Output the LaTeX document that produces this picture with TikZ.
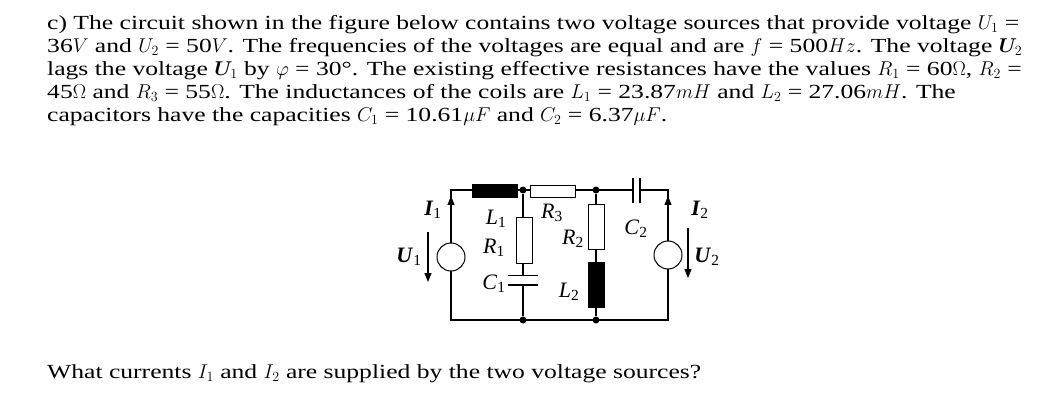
\RequirePackage{fix-cm}
\documentclass[tikz,border=0pt]{standalone}
\usepackage{amsmath,bm}
\usepackage{fontspec}
\setmainfont{Liberation Serif}[FakeStretch=1.28]
\newfontfamily\cfont{Liberation Serif}
\usetikzlibrary{arrows.meta}
\newcommand{\cl}[2]{\textit{#1}\textsubscript{\upshape #2}}
\newcommand{\cb}[2]{\textbf{\textit{#1}}\textsubscript{\upshape #2}}
\begin{document}
\begin{tikzpicture}[x=1pt,y=-1pt,
 txt/.style={anchor=base west,inner sep=0,font=\fontsize{20}{24}\selectfont},
 lab/.style={inner sep=0,font=\cfont\fontsize{22}{24}\selectfont},
 w/.style={line width=1.2pt},
 res/.style={draw,line width=1pt,fill=white},
 ind/.style={draw,line width=1pt,fill=black},
 dot/.style={circle,fill=black,inner sep=0,minimum size=7pt},
 arr/.style={line width=1.2pt,-{Triangle[length=9pt,width=7pt]}}]
\useasboundingbox (0,0) rectangle (1053,409);
\node[txt] (t1) at (47,30) {c) The circuit shown in the figure below contains two voltage sources that provide voltage $U_1$ =};
\node[txt] (t2) at (47,53) {36$V$ and $U_2$ = 50$V$. The frequencies of the voltages are equal and are $f$ = 500$Hz$. The voltage $\bm{U}_2$};
\node[txt] (t3) at (47,76) {lags the voltage $\bm{U}_1$ by $\varphi$ = 30°. The existing effective resistances have the values $R_1$ = 60$\Omega$, $R_2$ =};
\node[txt] (t4) at (47,99) {45$\Omega$ and $R_3$ = 55$\Omega$. The inductances of the coils are $L_1$ = 23.87$mH$ and $L_2$ = 27.06$mH$. The};
\node[txt] (t5) at (47,122) {capacitors have the capacities $C_1$ = 10.61$\mu F$ and $C_2$ = 6.37$\mu F$.};
\node[txt] (t6) at (47,378) {What currents $I_1$ and $I_2$ are supplied by the two voltage sources?};
% nodes
\coordinate (tl) at (451,190); \coordinate (tr) at (668,190);
\coordinate (bl) at (451,320); \coordinate (br) at (668,320);
\node[dot] (A) at (523,190) {}; \node[dot] (B) at (596,190) {};
\node[dot] (Ab) at (523,320) {}; \node[dot] (Bb) at (596,320) {};
\draw[w] (tl) -- (tr) -- (br) -- (bl) -- cycle;
\draw[w] (A) -- (Ab); \draw[w] (B) -- (Bb);
% series elements
\node[ind,minimum width=45pt,minimum height=13pt] (L1) at (494.5,191.5) {};
\node[res,minimum width=45pt,minimum height=12pt] (R3) at (552.5,192) {};
\fill[white] (633,180) rectangle (640,200);
\draw[line width=1.2pt] (633,178) -- (633,203) (640,178) -- (640,203);
\node[res,minimum width=16pt,minimum height=45pt] (R1) at (524,240.5) {};
\fill[white] (510,276) rectangle (536,285);
\draw[line width=1.2pt] (508,275.5) -- (538,275.5) (508,285) -- (538,285);
\node[res,minimum width=16pt,minimum height=44pt] (R2) at (596,227) {};
\node[ind,minimum width=16pt,minimum height=45pt] (L2) at (596,284.5) {};
\node[circle,draw,line width=1pt,fill=white,minimum size=28pt,inner sep=0] (S1) at (451,257) {};
\node[circle,draw,line width=1pt,fill=white,minimum size=28pt,inner sep=0] (S2) at (668,255) {};
\coordinate (S1e) at (451,196); \coordinate (S1s) at (451,212);
\coordinate (S2e) at (668,196); \coordinate (S2s) at (668,212);
\draw[arr] (S1s) -- (S1e); \draw[arr] (S2s) -- (S2e);
\coordinate (U1s) at (428,232); \coordinate (U1e) at (428,282);
\coordinate (U2s) at (688,228); \coordinate (U2e) at (688,278);
\draw[arr] (U1s) -- (U1e); \draw[arr] (U2s) -- (U2e);
% labels
\node[lab] (lI1) at (433,210) {\cb{I}{1}};
\node[lab] (lU1) at (409,257) {\cb{U}{1}};
\node[lab] (lI2) at (700,210) {\cb{I}{2}};
\node[lab] (lU2) at (707,257) {\cb{U}{2}};
\node[lab] (lL1) at (496,219) {\cl{L}{1}};
\node[lab] (lR1) at (494,248) {\cl{R}{1}};
\node[lab] (lC1) at (494,284) {\cl{C}{1}};
\node[lab] (lR3) at (552,213) {\cl{R}{3}};
\node[lab] (lR2) at (573,239) {\cl{R}{2}};
\node[lab] (lC2) at (636,229) {\cl{C}{2}};
\node[lab] (lL2) at (569,292) {\cl{L}{2}};
\end{tikzpicture}
\end{document}
